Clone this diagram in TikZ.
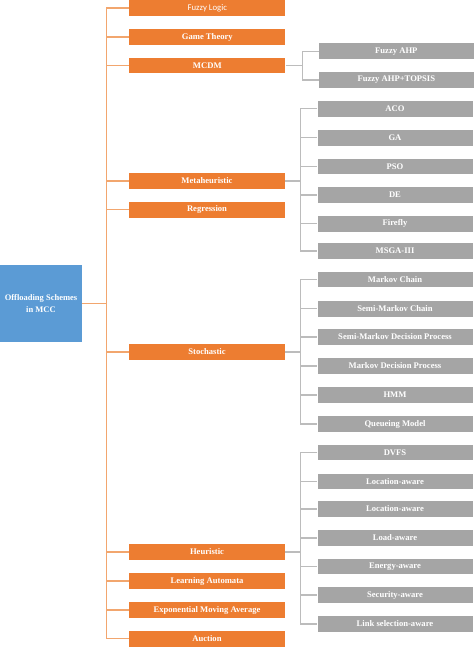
\documentclass[tikz,border=0pt]{standalone}
\usepackage{fontspec}
\setmainfont{Liberation Serif}
\newfontfamily\calibrifont{Carlito}
\definecolor{boxorange}{HTML}{ED7D31}
\definecolor{lineorange}{HTML}{F2A66E}
\definecolor{boxgray}{HTML}{A5A5A5}
\definecolor{linegray}{HTML}{BCBCBC}
\definecolor{boxblue}{HTML}{5B9BD5}
\tikzset{
	rootbox/.style={fill=boxblue, text=white, minimum width=82pt, minimum height=76.7pt, inner sep=0pt, align=center, font=\fontsize{8.5}{12}\selectfont\bfseries},
	methodbox/.style={fill=boxorange, text=white, minimum width=156pt, minimum height=15.6pt, inner sep=0pt, font=\fontsize{8.6}{9}\selectfont\bfseries},
	subbox/.style={fill=boxgray, text=white, minimum width=155pt, minimum height=15.6pt, inner sep=0pt, font=\fontsize{8.6}{9}\selectfont\bfseries},
	trunkline/.style={draw=lineorange, line width=1.2pt},
	subline/.style={draw=linegray, line width=1.2pt},
}

\begin{document}
\begin{tikzpicture}[x=1pt, y=-1pt]
			%%%%% START %%%%%
			\useasboundingbox (0, 0) rectangle (474, 647);
			
			\node[rootbox] (root) at (41, 303.7) {Offloading Schemes\\in MCC};
			
			\node[methodbox, font=\fontsize{8.7}{9}\selectfont\calibrifont] (fuzzylogic) at (207.3, 8) {Fuzzy Logic};
			\node[methodbox] (gametheory) at (207.3, 37) {Game Theory};
			\node[methodbox] (mcdm) at (207.3, 65.7) {MCDM};
			\node[methodbox] (metaheuristic) at (207, 181) {Metaheuristic};
			\node[methodbox] (regression) at (207, 209.7) {Regression};
			\node[methodbox] (stochastic) at (207, 352) {Stochastic};
			\node[methodbox] (heuristic) at (207, 552) {Heuristic};
			\node[methodbox] (automata) at (207, 581) {Learning Automata};
			\node[methodbox] (ema) at (207, 610) {Exponential Moving Average};
			\node[methodbox] (auction) at (207, 638.7) {Auction};
			
			\node[subbox] (fuzzyahp) at (396.3, 51.3) {Fuzzy AHP};
			\node[subbox] (topsis) at (396.3, 80) {Fuzzy AHP+TOPSIS};
			
			\node[subbox] (aco) at (395, 108.8) {ACO};
			\node[subbox] (ga) at (395, 137.8) {GA};
			\node[subbox] (pso) at (395, 166.5) {PSO};
			\node[subbox] (de) at (395, 195) {DE};
			\node[subbox] (firefly) at (395, 223.8) {Firefly};
			\node[subbox] (msga) at (395, 251) {MSGA-III};
			
			\node[subbox] (markov) at (395, 279.5) {Markov Chain};
			\node[subbox] (semimarkov) at (395, 308.7) {Semi-Markov Chain};
			\node[subbox] (smdp) at (395, 337) {Semi-Markov Decision Process};
			\node[subbox] (mdp) at (395, 366) {Markov Decision Process};
			\node[subbox] (hmm) at (395, 395) {HMM};
			\node[subbox] (queue) at (395, 424) {Queueing Model};
			
			\node[subbox] (dvfs) at (395, 452.5) {DVFS};
			\node[subbox] (location) at (395, 481.5) {Location-aware};
			\node[subbox] (locationb) at (395, 509) {Location-aware};
			\node[subbox] (load) at (395, 538) {Load-aware};
			\node[subbox] (energy) at (395, 566.5) {Energy-aware};
			\node[subbox] (security) at (395, 595) {Security-aware};
			\node[subbox] (link) at (395, 624) {Link selection-aware};
			
			% orange trunk
			\coordinate (trunk) at (106.7, 0);
			\draw[trunkline] (root.east) -- (trunk |- root.east);
			\draw[trunkline] (fuzzylogic.west) -- (trunk |- fuzzylogic.west) -- (trunk |- auction.west) -- (auction.west);
			\draw[trunkline] (trunk |- gametheory.west) -- (gametheory.west);
			\draw[trunkline] (trunk |- mcdm.west) -- (mcdm.west);
			\draw[trunkline] (trunk |- metaheuristic.west) -- (metaheuristic.west);
			\draw[trunkline] (trunk |- regression.west) -- (regression.west);
			\draw[trunkline] (trunk |- stochastic.west) -- (stochastic.west);
			\draw[trunkline] (trunk |- heuristic.west) -- (heuristic.west);
			\draw[trunkline] (trunk |- automata.west) -- (automata.west);
			\draw[trunkline] (trunk |- ema.west) -- (ema.west);
			
			% gray brackets
			\coordinate (mcdmbar) at (302.3, 0);
			\draw[subline] (mcdm.east) -- (mcdmbar |- mcdm.east);
			\draw[subline] (fuzzyahp.west) -- (mcdmbar |- fuzzyahp.west) -- (mcdmbar |- topsis.west) -- (topsis.west);
			
			\coordinate (subbar) at (300.7, 0);
			\draw[subline] (metaheuristic.east) -- (subbar |- metaheuristic.east);
			\draw[subline] (aco.west) -- (subbar |- aco.west) -- (subbar |- msga.west) -- (msga.west);
			\draw[subline] (subbar |- ga.west) -- (ga.west);
			\draw[subline] (subbar |- pso.west) -- (pso.west);
			\draw[subline] (subbar |- de.west) -- (de.west);
			\draw[subline] (subbar |- firefly.west) -- (firefly.west);
			
			\draw[subline] (stochastic.east) -- (subbar |- stochastic.east);
			\draw[subline] (markov.west) -- (subbar |- markov.west) -- (subbar |- queue.west) -- (queue.west);
			\draw[subline] (subbar |- semimarkov.west) -- (semimarkov.west);
			\draw[subline] (subbar |- smdp.west) -- (smdp.west);
			\draw[subline] (subbar |- mdp.west) -- (mdp.west);
			\draw[subline] (subbar |- hmm.west) -- (hmm.west);
			
			\draw[subline] (heuristic.east) -- (subbar |- heuristic.east);
			\draw[subline] (dvfs.west) -- (subbar |- dvfs.west) -- (subbar |- link.west) -- (link.west);
			\draw[subline] (subbar |- location.west) -- (location.west);
			\draw[subline] (subbar |- locationb.west) -- (locationb.west);
			\draw[subline] (subbar |- load.west) -- (load.west);
			\draw[subline] (subbar |- energy.west) -- (energy.west);
			\draw[subline] (subbar |- security.west) -- (security.west);
			
			%%%%% END %%%%%
\end{tikzpicture}
\end{document}
